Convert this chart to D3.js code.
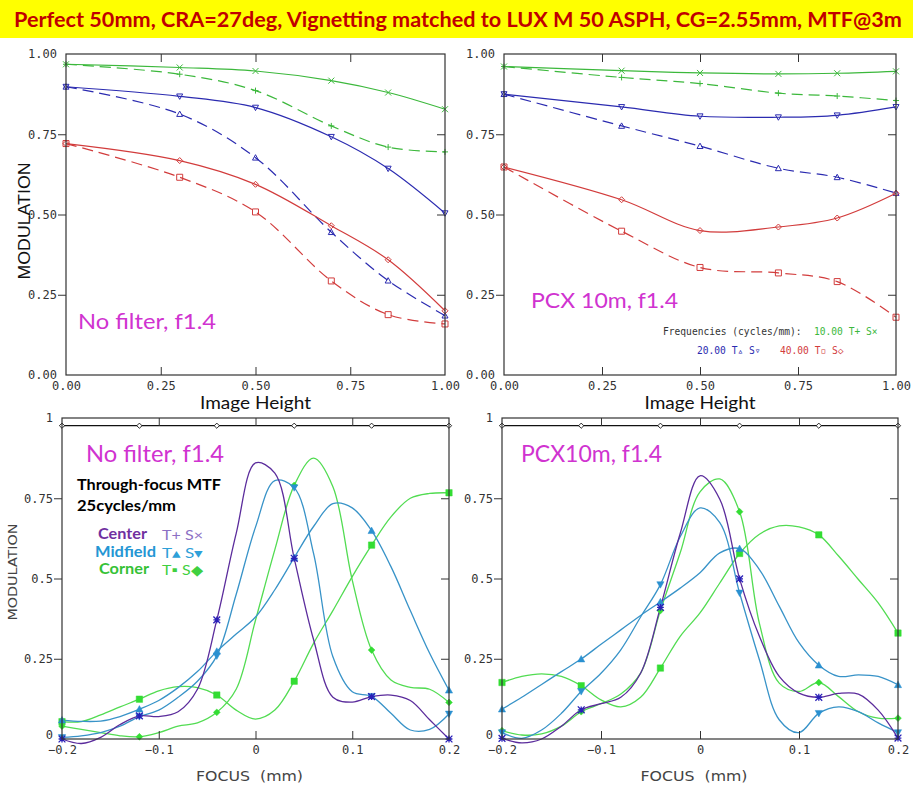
<!DOCTYPE html>
<meta charset="utf-8">
<head>
<style>
    body { margin: 0; background: #fff; }
    .tick text { font-family: "DejaVu Sans Mono", monospace; font-size: 12px; fill: #333; }
    .domain { display: none; }
</style>
<script src="https://cdnjs.cloudflare.com/ajax/libs/d3/7.8.5/d3.min.js"></script>
</head>
<body></body>
<script>

var width = 913, height = 785;

// MTF vs image height, sampled at these relative heights
var imageHeight = [0, 0.3, 0.5, 0.7, 0.85, 1.0];

// no filter, f1.4
var nf10T = [0.968, 0.937, 0.886, 0.776, 0.710, 0.695];
var nf10S = [0.968, 0.958, 0.947, 0.917, 0.880, 0.828];
var nf20T = [0.898, 0.813, 0.677, 0.445, 0.294, 0.185];
var nf20S = [0.898, 0.868, 0.833, 0.742, 0.643, 0.504];
var nf40T = [0.721, 0.616, 0.508, 0.293, 0.188, 0.159];
var nf40S = [0.721, 0.668, 0.594, 0.465, 0.359, 0.200];

// PCX 10m, f1.4
var pcx10T = [0.961, 0.927, 0.908, 0.878, 0.869, 0.855];
var pcx10S = [0.961, 0.948, 0.941, 0.938, 0.940, 0.946];
var pcx20T = [0.875, 0.776, 0.713, 0.644, 0.616, 0.567];
var pcx20S = [0.875, 0.835, 0.806, 0.803, 0.809, 0.835];
var pcx40T = [0.648, 0.448, 0.335, 0.318, 0.291, 0.180];
var pcx40S = [0.648, 0.546, 0.450, 0.461, 0.489, 0.566];

// through-focus MTF at 25 cycles/mm
var focus = [-0.2, -0.18, -0.16, -0.14, -0.12, -0.10, -0.08, -0.06, -0.04, -0.02, 0,
             0.02, 0.04, 0.06, 0.08, 0.10, 0.12, 0.14, 0.16, 0.18, 0.2];
var diffractionLimit = [0.976, 0.976, 0.976, 0.976, 0.976, 0.976];
var markerFocus = [-0.2, -0.12, -0.04, 0.04, 0.12, 0.2];

var nfCenter  = [0.0, -0.014, 0.005, 0.045, 0.072, 0.07, 0.085, 0.155, 0.371, 0.64, 0.86, 0.828, 0.563, 0.31, 0.13, 0.115, 0.132, 0.137, 0.12, 0.06, 0.0];
var nfMidT    = [0.059, 0.055, 0.056, 0.07, 0.093, 0.12, 0.16, 0.21, 0.273, 0.327, 0.38, 0.465, 0.565, 0.662, 0.733, 0.72, 0.649, 0.537, 0.40, 0.267, 0.152];
var nfMidS    = [0.005, 0.01, 0.02, 0.04, 0.07, 0.09, 0.13, 0.18, 0.259, 0.45, 0.66, 0.805, 0.783, 0.578, 0.256, 0.147, 0.133, 0.08, 0.028, 0.03, 0.078];
var nfCornerT = [0.054, 0.054, 0.075, 0.10, 0.124, 0.15, 0.163, 0.16, 0.137, 0.09, 0.062, 0.09, 0.18, 0.298, 0.40, 0.506, 0.604, 0.692, 0.75, 0.765, 0.767];
var nfCornerS = [0.04, 0.03, 0.02, 0.01, 0.007, 0.02, 0.04, 0.05, 0.083, 0.155, 0.37, 0.59, 0.79, 0.875, 0.786, 0.495, 0.277, 0.184, 0.161, 0.155, 0.114];

var pcxCenter  = [0.002, -0.012, 0.0, 0.04, 0.091, 0.11, 0.13, 0.205, 0.41, 0.64, 0.82, 0.747, 0.499, 0.32, 0.195, 0.143, 0.13, 0.142, 0.14, 0.09, 0.003];
var pcxMidT    = [0.093, 0.13, 0.17, 0.21, 0.249, 0.295, 0.34, 0.385, 0.427, 0.47, 0.518, 0.58, 0.593, 0.528, 0.414, 0.30, 0.23, 0.195, 0.2, 0.195, 0.169];
var pcxMidS    = [0.02, 0.002, 0.028, 0.08, 0.148, 0.205, 0.278, 0.38, 0.481, 0.63, 0.72, 0.674, 0.455, 0.247, 0.06, 0.02, 0.08, 0.1, 0.085, 0.05, 0.02];
var pcxCornerT = [0.176, 0.195, 0.203, 0.195, 0.166, 0.122, 0.10, 0.13, 0.221, 0.32, 0.393, 0.486, 0.578, 0.638, 0.664, 0.661, 0.636, 0.57, 0.497, 0.424, 0.33];
var pcxCornerS = [0.026, 0.0125, 0.016, 0.04, 0.085, 0.11, 0.14, 0.205, 0.40, 0.58, 0.77, 0.81, 0.708, 0.36, 0.174, 0.148, 0.176, 0.132, 0.085, 0.065, 0.065];

var green = "#3cb83c", blue = "#2b2bb0", red = "#d23c3c";
var purple = "#5b2c9c", teal = "#3893c8", lime = "#52dc52";
var magenta = "#d033d0";

var svg = d3.select("body").append("svg")
    .attr("width", width)
    .attr("height", height);

svg.append("rect").attr("width", width).attr("height", height).attr("fill", "#fff");
svg.append("rect").attr("width", width).attr("height", 38).attr("fill", "#ffff00");

svg.append("text")
    .attr("x", 458).attr("y", 27)
    .attr("text-anchor", "middle")
    .attr("textLength", 888).attr("lengthAdjust", "spacingAndGlyphs")
    .style("font-family", "Lato, 'Open Sans', sans-serif")
    .style("font-weight", "bold").style("font-size", "21px")
    .attr("fill", "#c00000")
    .text("Perfect 50mm, CRA=27deg, Vignetting matched to LUX M 50 ASPH, CG=2.55mm, MTF@3m");

//small marker shapes centred on 0,0
function markerPath(type, r) {
    var plus = "M" + (-r) + ",0H" + r + "M0," + (-r) + "V" + r;
    var times = "M" + (-r) + "," + (-r) + "L" + r + "," + r + "M" + (-r) + "," + r + "L" + r + "," + (-r);
    if (type == "plus") return plus;
    if (type == "times") return times;
    if (type == "asterisk") return plus + times;
    if (type == "triUp") return "M0," + (-r) + "L" + r + "," + (r * 0.8) + "L" + (-r) + "," + (r * 0.8) + "Z";
    if (type == "triDown") return "M0," + r + "L" + r + "," + (-r * 0.8) + "L" + (-r) + "," + (-r * 0.8) + "Z";
    if (type == "square") return "M" + (-r) + "," + (-r) + "H" + r + "V" + r + "H" + (-r) + "Z";
    if (type == "diamond") return "M0," + (-r) + "L" + r + ",0L0," + r + "L" + (-r) + ",0Z";
}

function label(g, x, y, txt, size, color, len, opts) {
    opts = opts || {};
    var t = g.append("text")
        .attr("x", x).attr("y", y)
        .attr("fill", color)
        .style("font-family", opts.family || "Lato, sans-serif")
        .style("font-size", size + "px")
        .style("font-weight", opts.bold ? "bold" : "normal")
        .attr("text-anchor", opts.anchor || "start")
        .text(txt);
    if (len) t.attr("textLength", len).attr("lengthAdjust", "spacingAndGlyphs");
    if (opts.rotate) t.attr("transform", "rotate(-90," + x + "," + y + ")");
    return t;
}

function frameAndTicks(x, y, inner, xFmt, yFmt, xVals, yVals, pad) {
    var l = x.range()[0], r = x.range()[1], b = y.range()[0], t = y.range()[1];
    svg.append("g").attr("transform", "translate(0," + b + ")")
        .call(d3.axisBottom(x).tickValues(inner.x).tickSize(-8).tickFormat(""));
    svg.append("g").attr("transform", "translate(0," + t + ")")
        .call(d3.axisTop(x).tickValues(inner.x).tickSize(-8).tickFormat(""));
    svg.append("g").attr("transform", "translate(" + r + ",0)")
        .call(d3.axisRight(y).tickValues(inner.y).tickSize(-8).tickFormat(""));
    svg.append("g").attr("transform", "translate(" + l + ",0)")
        .call(d3.axisLeft(y).tickValues(inner.y).tickSize(8).tickFormat(""));
    svg.append("g").attr("transform", "translate(0," + b + ")")
        .call(d3.axisBottom(x).tickValues(xVals).tickSize(0).tickPadding(pad).tickFormat(xFmt));
    var yAxis = svg.append("g").attr("transform", "translate(" + l + ",0)")
        .call(d3.axisLeft(y).tickValues(yVals).tickSize(0).tickPadding(9).tickFormat(yFmt));
    svg.selectAll(".tick line").attr("stroke", "#333");
    svg.append("rect")
        .attr("x", l).attr("y", t).attr("width", r - l).attr("height", b - t)
        .attr("fill", "none").attr("stroke", "#333").attr("stroke-width", 1.2);
    return yAxis;
}

//MTF vs image height panel
function drawHeightPanel(left, right, series) {
    var x = d3.scaleLinear().domain([0, 1]).range([left, right]),
        y = d3.scaleLinear().domain([0, 1]).range([375, 54]);

    var line = d3.line()
        .x(function(d, i) { return x(imageHeight[i]); })
        .y(function(d) { return y(d); })
        .curve(d3.curveCatmullRom.alpha(0.5));

    var g = svg.append("g");
    series.forEach(function(s) {
        g.append("path")
            .attr("d", line(s.vals))
            .attr("fill", "none")
            .attr("stroke", s.color)
            .attr("stroke-width", 1.2)
            .attr("stroke-dasharray", s.dash ? "11,6" : null);
        g.selectAll(null).data(s.vals).enter().append("path")
            .attr("transform", function(d, i) { return "translate(" + x(imageHeight[i]) + "," + y(d) + ")"; })
            .attr("d", markerPath(s.marker, 3))
            .attr("fill", "none")
            .attr("stroke", s.color)
            .attr("stroke-width", 1);
    });

    frameAndTicks(x, y, { x: [0.25, 0.5, 0.75], y: [0.25, 0.5, 0.75] },
        d3.format(".2f"), d3.format(".2f"),
        [0, 0.25, 0.5, 0.75, 1], [0, 0.25, 0.5, 0.75, 1], 6);

    label(svg, (left + right) / 2, 409, "Image Height", 17, "#111", 111, { anchor: "middle" });
}

//through-focus panel
function drawFocusPanel(left, right, series) {
    var x = d3.scaleLinear().domain([-0.2, 0.2]).range([left, right]),
        y = d3.scaleLinear().domain([0, 1]).range([739, 418]);

    var line = d3.line()
        .x(function(d, i) { return x(focus[i]); })
        .y(function(d) { return y(d); })
        .curve(d3.curveCatmullRom.alpha(0.5));

    var g = svg.append("g");

    //diffraction limit
    g.append("path")
        .attr("d", d3.line().x(function(d, i) { return x(markerFocus[i]); }).y(function(d) { return y(d); })(diffractionLimit))
        .attr("fill", "none").attr("stroke", "#111").attr("stroke-width", 1.2);
    g.selectAll(null).data(diffractionLimit).enter().append("path")
        .attr("transform", function(d, i) { return "translate(" + x(markerFocus[i]) + "," + y(d) + ")"; })
        .attr("d", markerPath("diamond", 2.6))
        .attr("fill", "#fff").attr("stroke", "#111").attr("stroke-width", 0.9);

    series.forEach(function(s) {
        g.append("path")
            .attr("d", line(s.vals))
            .attr("fill", "none")
            .attr("stroke", s.color)
            .attr("stroke-width", 1.3);
    });
    series.forEach(function(s) {
        var pts = s.vals.filter(function(d, i) { return i % 4 == 0; });
        g.selectAll(null).data(pts).enter().append("path")
            .attr("transform", function(d, i) { return "translate(" + x(markerFocus[i]) + "," + y(d) + ")"; })
            .attr("d", markerPath(s.marker, s.size))
            .attr("fill", s.filled ? s.mcolor : "none")
            .attr("stroke", s.mcolor)
            .attr("stroke-width", s.filled ? 0.5 : 1.3);
    });

    var yAxis = frameAndTicks(x, y, { x: [-0.1, 0, 0.1], y: [0.25, 0.5, 0.75] },
        function(d) { return d == 0 ? "0" : d3.format(".1f")(d); },
        function(d) { return d == 0 ? "0" : d == 1 ? "1" : String(d); },
        [-0.2, -0.1, 0, 0.1, 0.2], [0, 0.25, 0.5, 0.75, 1], 6);

    //lift the "0" label clear of the -0.2 label beneath it
    yAxis.selectAll(".tick text").filter(function(d) { return d == 0; }).attr("dy", "-0.05em");

    label(svg, (left + right) / 2 - 6, 781, "FOCUS\u00a0\u00a0(mm)", 14, "#444", 107,
        { anchor: "middle", family: "'DejaVu Sans', sans-serif" });
}

function heightSeries(v10T, v10S, v20T, v20S, v40T, v40S) {
    return [
        { vals: v10T, color: green, dash: true, marker: "plus" },
        { vals: v10S, color: green, dash: false, marker: "times" },
        { vals: v20T, color: blue, dash: true, marker: "triUp" },
        { vals: v20S, color: blue, dash: false, marker: "triDown" },
        { vals: v40T, color: red, dash: true, marker: "square" },
        { vals: v40S, color: red, dash: false, marker: "diamond" }
    ];
}

function focusSeries(center, midT, midS, cornerT, cornerS) {
    return [
        { vals: cornerT, color: lime, marker: "square", mcolor: "#33dd33", filled: true, size: 3.2 },
        { vals: cornerS, color: lime, marker: "diamond", mcolor: "#33dd33", filled: true, size: 3.4 },
        { vals: midT, color: teal, marker: "triUp", mcolor: "#2a90d0", filled: true, size: 3.6 },
        { vals: midS, color: teal, marker: "triDown", mcolor: "#2a90d0", filled: true, size: 3.6 },
        { vals: center, color: purple, marker: "asterisk", mcolor: "#2a20b8", filled: false, size: 3.4 }
    ];
}

drawHeightPanel(66, 445, heightSeries(nf10T, nf10S, nf20T, nf20S, nf40T, nf40S));
drawHeightPanel(504, 896, heightSeries(pcx10T, pcx10S, pcx20T, pcx20S, pcx40T, pcx40S));
drawFocusPanel(62, 449, focusSeries(nfCenter, nfMidT, nfMidS, nfCornerT, nfCornerS));
drawFocusPanel(502, 898, focusSeries(pcxCenter, pcxMidT, pcxMidS, pcxCornerT, pcxCornerS));

//axis titles
label(svg, 30, 221, "MODULATION", 17, "#111", 117, { anchor: "middle", rotate: true, family: "'Liberation Sans', Arial, sans-serif" });
label(svg, 17, 572, "MODULATION", 13, "#444", 97, { anchor: "middle", rotate: true, family: "'DejaVu Sans', sans-serif" });

//panel captions
label(svg, 78, 329, "No filter, f1.4", 22, magenta, 138);
label(svg, 531, 308, "PCX 10m, f1.4", 22, magenta, 147);
label(svg, 86, 462, "No filter, f1.4", 23, magenta, 138);
label(svg, 521, 462, "PCX10m, f1.4", 23, magenta, 141);

//frequency legend
var mono = { family: "'DejaVu Sans Mono', monospace" };
label(svg, 663, 335, "Frequencies (cycles/mm):", 9.6, "#333", null, mono);
label(svg, 814, 335, "10.00 T+ S\u00d7", 9.6, green, null, mono);
label(svg, 697, 354, "20.00 T\u25b5 S\u25bf", 9.6, blue, null, mono);
label(svg, 780, 354, "40.00 T\u25ab S\u25c7", 9.6, red, null, mono);

//through-focus legend
label(svg, 77, 490, "Through-focus MTF", 15, "#000", 144, { bold: true });
label(svg, 77, 511, "25cycles/mm", 15, "#000", 99, { bold: true });
label(svg, 98, 539, "Center", 15, "#7030a0", 49, { bold: true });
label(svg, 95, 557, "Midfield", 15, "#2496d4", 61, { bold: true });
label(svg, 99, 574, "Corner", 15, "#36c236", 50, { bold: true });
label(svg, 162, 540, "T+  S\u00d7", 14, "#8c70c4", 41);
label(svg, 162, 558, "T\u25b4  S\u25be", 14, "#2ea0d8", 41);
label(svg, 162, 575, "T\u25aa  S\u25c6", 14, "#40d040", 41);

</script>
